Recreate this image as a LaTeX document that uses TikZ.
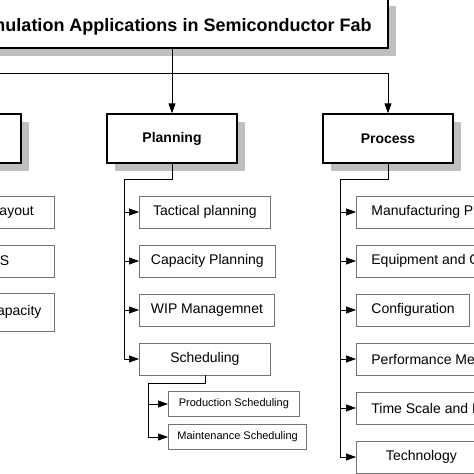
\documentclass[tikz,border=0pt]{standalone}
\usepackage{fontspec}
\setmainfont{Liberation Sans}
\usetikzlibrary{arrows.meta,shadows}
\tikzset{
    arr/.style={-{Triangle[length=10pt,width=7pt]}, line width=0.7pt},
    boxshadow/.style={drop shadow={shadow xshift=8pt, shadow yshift=-8pt, fill=black!25, opacity=1}},
    topbox/.style={draw, line width=1.2pt, fill=white, boxshadow, minimum width=432pt, minimum height=50pt,
        text height=17pt, text depth=0pt, font=\bfseries\fontsize{18}{20}\selectfont},
    groupbox/.style={draw, line width=1.2pt, fill=white, boxshadow, minimum width=130pt, minimum height=49pt,
        font=\bfseries\fontsize{14}{16}\selectfont},
    itembox/.style={draw=black!55, line width=0.8pt, fill=white, inner xsep=11.5pt, minimum height=32pt,
        font=\fontsize{14}{16}\selectfont},
    procbox/.style={itembox, inner xsep=15pt},
    smallbox/.style={draw=black!55, line width=0.8pt, fill=white, inner xsep=9pt, minimum width=131pt,
        minimum height=25pt, font=\fontsize{11}{13}\selectfont}
}
\begin{document}
\begin{tikzpicture}[x=1pt, y=-1pt]
        \useasboundingbox (0,0) rectangle (474,474);
        \clip (0,0) rectangle (474,474);
        \node [topbox] (title) at (172,23) {Simulation Applications in Semiconductor Fab};
        \node [groupbox] (design) at (-44,138.5) {};
        \node [groupbox] (planning) at (172,138.5) {Planning};
        \node [groupbox] (process) at (388,138.5) {Process};
        \coordinate (split) at (172,73);
        \draw [arr] (title.south) -- (planning.north);
        \draw [arr] (split) -| (design.north);
        \draw [arr] (split) -| (process.north);
        % first column
        \node [itembox, minimum width=131pt] (layout) at (-11,212) {Facility Layout};
        \node [itembox, minimum width=131pt] (amhs) at (-11,261) {AMHS};
        \node [itembox, minimum width=131pt, minimum height=38pt] (capacity) at (-11,312) {Factory Capacity};
        \coordinate (dtrunk) at (-92,179);
        \draw [arr] (design.south) |- (dtrunk) |- (capacity.west);
        \draw [arr] (dtrunk |- layout.west) -- (layout.west);
        \draw [arr] (dtrunk |- amhs.west) -- (amhs.west);
        % planning
        \node [itembox, anchor=west, minimum width=131pt] (tactical) at (139,212) {Tactical planning};
        \node [itembox, anchor=west] (capplan) at (139,261) {Capacity Planning};
        \node [itembox, anchor=west] (wip) at (139,310) {WIP Managemnet};
        \node [itembox, anchor=west, minimum width=131pt] (sched) at (139,359) {Scheduling};
        \coordinate (ptrunk) at (124,179);
        \draw [arr] (planning.south) |- (ptrunk) |- (sched.west);
        \draw [arr] (ptrunk |- tactical.west) -- (tactical.west);
        \draw [arr] (ptrunk |- capplan.west) -- (capplan.west);
        \draw [arr] (ptrunk |- wip.west) -- (wip.west);
        \node [smallbox, anchor=west] (prodsched) at (168,404) {Production Scheduling};
        \node [smallbox, anchor=west] (maintsched) at (168,437) {Maintenance Scheduling};
        \coordinate (strunk) at (148,383);
        \draw [arr] (sched.south) |- (strunk) |- (maintsched.west);
        \draw [arr] (strunk |- prodsched.west) -- (prodsched.west);
        % process
        \node [procbox, anchor=west] (manuf) at (356,212) {Manufacturing Process};
        \node [procbox, anchor=west] (equip) at (356,261) {Equipment and Operators};
        \node [procbox, anchor=west] (config) at (356,310) {Configuration};
        \node [procbox, anchor=west] (perf) at (356,359) {Performance Measures};
        \node [procbox, anchor=west] (timescale) at (356,408) {Time Scale and Detail};
        \node [procbox, anchor=west, minimum width=130pt] (techno) at (356,457) {Technology};
        \coordinate (qtrunk) at (340,179);
        \draw [arr] (process.south) |- (qtrunk) |- (techno.west);
        \draw [arr] (qtrunk |- manuf.west) -- (manuf.west);
        \draw [arr] (qtrunk |- equip.west) -- (equip.west);
        \draw [arr] (qtrunk |- config.west) -- (config.west);
        \draw [arr] (qtrunk |- perf.west) -- (perf.west);
        \draw [arr] (qtrunk |- timescale.west) -- (timescale.west);
\end{tikzpicture}
\end{document}
